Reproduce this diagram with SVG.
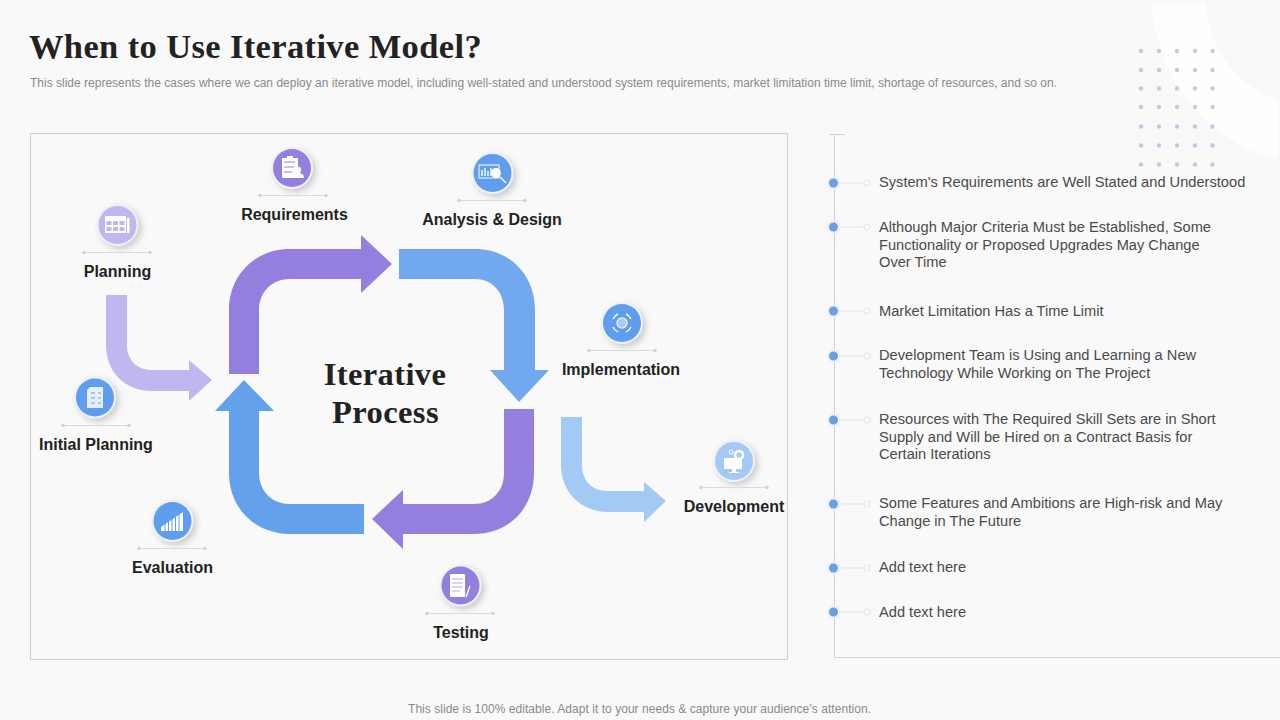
<svg xmlns="http://www.w3.org/2000/svg" width="1280" height="720" viewBox="0 0 1280 720">
<style>
text{font-family:"Liberation Sans",Arial,sans-serif}
.title{font-family:"Liberation Serif","Times New Roman",serif;font-weight:700;fill:#222}
.sub{font-size:12px;fill:#8a8a8a}
.lab{font-size:16px;font-weight:700;fill:#222;text-anchor:middle}
.li{font-size:14.65px;fill:#4a4a4a}
.sep{stroke:#d8dadd;stroke-width:1.2}
.sepd{fill:#d2d4d6}
.halo{fill:#eef1f8;filter:url(#sh)}
.i{fill:#fff}
.il{stroke:#fff;fill:none;stroke-width:1.4}
.dot{fill:#6a9fe6}
.dh{fill:none;stroke:#eceef2;stroke-width:1.5}
.conn{stroke:#e6e8eb;stroke-width:1.2;fill:none}
.o{fill:#fafafa;stroke:#e6e8eb;stroke-width:1.2}
.gd{fill:#c8c6e8}
</style>
<defs>
<filter id="sh" x="-40%" y="-40%" width="190%" height="190%"><feDropShadow dx="3" dy="3" stdDeviation="3" flood-color="#8a8a8a" flood-opacity="0.42"/></filter>
</defs>
<rect width="1280" height="720" fill="#f9f9f9"/>
<path d="M1151 3H1206C1208 50 1240 88 1278 100V158C1210 145 1158 80 1151 3Z" fill="#fefefe"/>
<g id="dots">
<g class="gd"><circle cx="1141" cy="51" r="2.2"/><circle cx="1159" cy="51" r="2.2"/><circle cx="1177" cy="51" r="2.2"/><circle cx="1195" cy="51" r="2.2"/><circle cx="1212.500" cy="51" r="2.2"/>
<circle cx="1141" cy="70" r="2.2"/><circle cx="1159" cy="70" r="2.2"/><circle cx="1177" cy="70" r="2.2"/><circle cx="1195" cy="70" r="2.2"/><circle cx="1212.500" cy="70" r="2.2"/>
<circle cx="1141" cy="88.500" r="2.2"/><circle cx="1159" cy="88.500" r="2.2"/><circle cx="1177" cy="88.500" r="2.2"/><circle cx="1195" cy="88.500" r="2.2"/><circle cx="1212.500" cy="88.500" r="2.2"/>
<circle cx="1141" cy="107" r="2.2"/><circle cx="1159" cy="107" r="2.2"/><circle cx="1177" cy="107" r="2.2"/><circle cx="1195" cy="107" r="2.2"/><circle cx="1212.500" cy="107" r="2.2"/>
<circle cx="1141" cy="126.500" r="2.2"/><circle cx="1159" cy="126.500" r="2.2"/><circle cx="1177" cy="126.500" r="2.2"/><circle cx="1195" cy="126.500" r="2.2"/><circle cx="1212.500" cy="126.500" r="2.2"/>
<circle cx="1141" cy="145.500" r="2.2"/><circle cx="1159" cy="145.500" r="2.2"/><circle cx="1177" cy="145.500" r="2.2"/><circle cx="1195" cy="145.500" r="2.2"/><circle cx="1212.500" cy="145.500" r="2.2"/>
<circle cx="1141" cy="164.500" r="2.2"/><circle cx="1159" cy="164.500" r="2.2"/><circle cx="1177" cy="164.500" r="2.2"/><circle cx="1195" cy="164.500" r="2.2"/><circle cx="1212.500" cy="164.500" r="2.2"/></g>
</g>
<text class="title" x="29" y="58" font-size="34.500" letter-spacing="0.37">When to Use Iterative Model?</text>
<text class="sub" x="30" y="87" textLength="1027" lengthAdjust="spacing">This slide represents the cases where we can deploy an iterative  model, including well-stated and understood system requirements, market limitation time limit, shortage of resources, and so on.</text>
<rect x="30.500" y="133.500" width="757" height="526" fill="#f9f9f9" stroke="#cfcfcf"/>
<g id="connectors">
<path fill="#947fdf" d="M229 374V310C229 275 255 249 290 249H361V235L392 264L361 293V279H290C272 279 259 292 259 310V374Z"/>
<path fill="#72a9ee" d="M399 249H475C510 249 535 275 535 310V370H549L519 402L490 370H504V310C504 292 492 279 475 279H399Z"/>
<path fill="#947fdf" d="M534 409V473C534 508 509 534 474 534H403V549L372 519L403 490V504H474C492 504 504 491 504 473V409Z"/>
<path fill="#63a1ec" d="M364 534H290C255 534 229 508 229 473V411H215L244 380L274 411H259V473C259 491 272 504 290 504H364Z"/>
<path fill="#c1b6ef" d="M106 295H127V345C127 360 137 370 152 370H189V360L212 380L189 401V391H152C125 391 106 372 106 345Z"/>
<path fill="#a3c9f5" d="M561 417H582V465C582 481 592 491 608 491H644V482L666 501L644 522V512H608C581 512 561 492 561 465Z"/>
</g>
<text class="title" x="385" y="384.500" font-size="32.500" text-anchor="middle" letter-spacing="0.4">Iterative</text>
<text class="title" x="385.500" y="422.500" font-size="32.500" text-anchor="middle" letter-spacing="0.4">Process</text>

<g id="requirements">
<circle class="halo" cx="292" cy="168" r="21"/><circle cx="292" cy="168" r="19" fill="#947fdf"/>
<path class="i" d="M282 158H287V156H293V158H298V168L294 178H282Z"/><g stroke="#947fdf" stroke-width="1"><path d="M284 162H295M284 167H294M284 172H292"/></g>
<circle class="i" cx="298" cy="170" r="3.200"/><path class="i" d="M292 178C292 174 295 173 298 173C301 173 304 174 304 178Z"/>
<path class="sep" d="M260 195.500H326"/><circle class="sepd" cx="260" cy="195.500" r="1.800"/><circle class="sepd" cx="326" cy="195.500" r="1.800"/>
<text class="lab" x="294.500" y="220">Requirements</text>
</g>
<g id="planning">
<circle class="halo" cx="117.500" cy="225" r="21"/><circle cx="117.500" cy="225" r="19" fill="#c1b6ef"/>
<rect class="i" x="105" y="216" width="21" height="17" rx="1"/><rect class="i" x="127" y="218" width="2.500" height="15"/>
<g fill="#c1b6ef"><rect x="106.500" y="221" width="5" height="4"/><rect x="113" y="221" width="5" height="4"/><rect x="119.500" y="221" width="5" height="4"/><rect x="106.500" y="227" width="5" height="4"/><rect x="113" y="227" width="5" height="4"/><rect x="119.500" y="227" width="5" height="4"/></g>
<path class="sep" d="M84 252.500H150"/><circle class="sepd" cx="84" cy="252.500" r="1.800"/><circle class="sepd" cx="150" cy="252.500" r="1.800"/>
<text class="lab" x="117.500" y="277">Planning</text>
</g>
<g id="analysis-design">
<circle class="halo" cx="492.500" cy="173" r="21"/><circle cx="492.500" cy="173" r="19" fill="#5f9ded"/>
<rect x="479" y="165" width="20" height="13" fill="none" stroke="#fff" stroke-width="1"/><path class="il" d="M482 176V170M485 176V168M488 176V171M491 176V168" stroke-width="1"/>
<circle class="i" cx="496" cy="173" r="5"/><path class="il" d="M500 177L506 183" stroke-width="2"/>
<path class="sep" d="M459 200.500H525"/><circle class="sepd" cx="459" cy="200.500" r="1.800"/><circle class="sepd" cx="525" cy="200.500" r="1.800"/>
<text class="lab" x="492" y="225">Analysis &amp; Design</text>
</g>
<g id="implementation">
<circle class="halo" cx="622" cy="323" r="21"/><circle cx="622" cy="323" r="19" fill="#5f9ded"/>
<circle cx="622" cy="323" r="5" fill="#a9c8f3" stroke="#e6effb" stroke-width="1.500"/>
<path class="il" d="M613 319A10 10 0 0 1 618 314M626 314A10 10 0 0 1 631 319M631 327A10 10 0 0 1 626 332M618 332A10 10 0 0 1 613 327" stroke-width="1.800"/>
<path class="sep" d="M589 350.500H655"/><circle class="sepd" cx="589" cy="350.500" r="1.800"/><circle class="sepd" cx="655" cy="350.500" r="1.800"/>
<text class="lab" x="621" y="375">Implementation</text>
</g>
<g id="initial-planning">
<circle class="halo" cx="95" cy="397.500" r="21"/><circle cx="95" cy="397.500" r="19" fill="#5f9ded"/>
<path d="M90 387H103V408H87V390Z" fill="#e6effb"/><path d="M91 393H95M98 393H101M91 398H95M98 398H101M91 403H95M98 403H101" stroke="#8db9f0" stroke-width="1.500"/>
<path class="sep" d="M63 425.500H129"/><circle class="sepd" cx="63" cy="425.500" r="1.800"/><circle class="sepd" cx="129" cy="425.500" r="1.800"/>
<text class="lab" x="96" y="450">Initial Planning</text>
</g>
<g id="evaluation">
<circle class="halo" cx="172.500" cy="521" r="21"/><circle cx="172.500" cy="521" r="19" fill="#5f9ded"/>
<path class="i" d="M161 527L183 512V531H161Z"/><path d="M165 520V532M168.500 520V532M172 518V532M175.500 515V532M179 512V532" stroke="#5f9ded" stroke-width="1"/>
<path class="sep" d="M139 548.500H205"/><circle class="sepd" cx="139" cy="548.500" r="1.800"/><circle class="sepd" cx="205" cy="548.500" r="1.800"/>
<text class="lab" x="172.500" y="573">Evaluation</text>
</g>
<g id="development">
<circle class="halo" cx="734" cy="461" r="21"/><circle cx="734" cy="461" r="19" fill="#a3c9f5"/>
<rect class="i" x="724" y="458" width="18" height="11"/><path class="i" d="M732 469H736V472H739V473H729V472H732Z"/>
<circle cx="739" cy="455" r="4" fill="#a3c9f5" stroke="#fff" stroke-width="2.500"/><circle cx="731" cy="452" r="2" fill="none" stroke="#fff"/>
<path class="sep" d="M701 487.500H767"/><circle class="sepd" cx="701" cy="487.500" r="1.800"/><circle class="sepd" cx="767" cy="487.500" r="1.800"/>
<text class="lab" x="734" y="512">Development</text>
</g>
<g id="testing">
<circle class="halo" cx="460.500" cy="585.500" r="21"/><circle cx="460.500" cy="585.500" r="19" fill="#947fdf"/>
<rect class="i" x="450" y="574" width="15" height="23" rx="1"/><path d="M452 579H463M452 583H463M452 587H463M452 591H460" stroke="#b6a8ea"/>
<path class="il" d="M466 597L470 586" stroke-width="1.500"/>
<path class="sep" d="M427 613.500H493"/><circle class="sepd" cx="427" cy="613.500" r="1.800"/><circle class="sepd" cx="493" cy="613.500" r="1.800"/>
<text class="lab" x="461" y="638">Testing</text>
</g>

<g id="list-frame" fill="none" stroke="#cfd2d8">
<path d="M834.500 134V657.500H1280"/><path d="M829 134.500H845"/>
</g>
<g id="list-connectors">
<path class="conn" d="M838 183H864"/><path class="conn" d="M838 227H864"/><path class="conn" d="M838 311H864"/><path class="conn" d="M838 356H864"/><path class="conn" d="M838 420H864"/><path class="conn" d="M838 504H864"/><path class="conn" d="M838 568H864"/><path class="conn" d="M838 612H864"/>
</g>
<g id="item1"><circle class="dh" cx="834" cy="183" r="6"/><circle class="dot" cx="833.500" cy="183" r="4.500"/><circle class="o" cx="867" cy="183" r="3"/><text class="li" x="879" y="187">System's Requirements are Well Stated and Understood</text></g>
<g id="item2"><circle class="dh" cx="834" cy="227" r="6"/><circle class="dot" cx="833.500" cy="227" r="4.500"/><circle class="o" cx="867" cy="227" r="3"/><text class="li" x="879" y="232">Although Major Criteria Must be Established, Some</text><text class="li" x="879" y="250">Functionality or Proposed Upgrades May Change</text><text class="li" x="879" y="267">Over Time</text></g>
<g id="item3"><circle class="dh" cx="834" cy="311" r="6"/><circle class="dot" cx="833.500" cy="311" r="4.500"/><circle class="o" cx="867" cy="311" r="3"/><text class="li" x="879" y="316">Market Limitation Has a Time Limit</text></g>
<g id="item4"><circle class="dh" cx="834" cy="356" r="6"/><circle class="dot" cx="833.500" cy="356" r="4.500"/><circle class="o" cx="867" cy="356" r="3"/><text class="li" x="879" y="360">Development Team is Using and Learning a New</text><text class="li" x="879" y="378">Technology While Working on The Project</text></g>
<g id="item5"><circle class="dh" cx="834" cy="420" r="6"/><circle class="dot" cx="833.500" cy="420" r="4.500"/><circle class="o" cx="867" cy="420" r="3"/><text class="li" x="879" y="424">Resources with The Required Skill Sets are in Short</text><text class="li" x="879" y="442">Supply and Will be Hired on a Contract Basis for</text><text class="li" x="879" y="459">Certain Iterations</text></g>
<g id="item6"><circle class="dh" cx="834" cy="504" r="6"/><circle class="dot" cx="833.500" cy="504" r="4.500"/><circle class="o" cx="867" cy="504" r="3"/><text class="li" x="879" y="508">Some Features and Ambitions are High-risk and May</text><text class="li" x="879" y="526">Change in The Future</text></g>
<g id="item7"><circle class="dh" cx="834" cy="568" r="6"/><circle class="dot" cx="833.500" cy="568" r="4.500"/><circle class="o" cx="867" cy="568" r="3"/><text class="li" x="879" y="572">Add text here</text></g>
<g id="item8"><circle class="dh" cx="834" cy="612" r="6"/><circle class="dot" cx="833.500" cy="612" r="4.500"/><circle class="o" cx="867" cy="612" r="3"/><text class="li" x="879" y="617">Add text here</text></g>
<text class="sub" x="408" y="713" textLength="463" lengthAdjust="spacing">This slide is 100% editable. Adapt it to your needs &amp; capture your audience’s attention.</text>
</svg>
